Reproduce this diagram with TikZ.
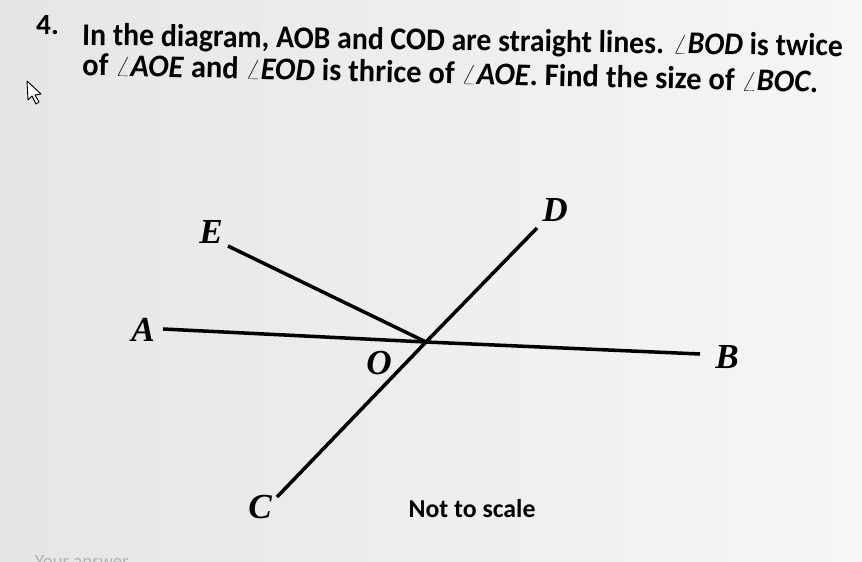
\documentclass[tikz,border=0pt]{standalone}
\usepackage{fontspec}
\setmainfont{Carlito}
\newfontfamily\labelfont{Liberation Serif}

\begin{document}
\begin{tikzpicture}[x=0.03cm,y=-0.03cm]
\tikzstyle{question} = [font=\fontsize{27}{32}\selectfont\bfseries, anchor=base west, inner sep=0pt, transform shape]
\tikzstyle{point} = [font=\labelfont\fontsize{30}{34}\selectfont\bfseries\itshape, inner sep=0pt]
\tikzstyle{ray} = [line width=3pt]

\clip (0,0) rectangle (862,562);
\shade [left color=gray!20, right color=gray!7] (0,0) rectangle (862,562);

% question text
\node (num) [question, font=\fontsize{25}{30}\selectfont\bfseries] at (36,35) {4.};
\node (line1) [question, xscale=0.94, rotate=-0.8] at (82,45) {In the diagram, AOB and COD are straight lines. $\angle$\textit{BOD} is twice};
\node (line2) [question, xscale=0.965, rotate=-1.3] at (82,75) {of $\angle$\textit{AOE} and $\angle$\textit{EOD} is thrice of $\angle$\textit{AOE}. Find the size of $\angle$\textit{BOC}.};

% mouse pointer
\draw [fill=white, line width=0.8pt, line join=round] (27,81) -- (28,100) -- (32,96) -- (36,104) -- (39,102) -- (35,95) -- (41,94) -- cycle;

% points
\coordinate (O) at (426,342);
\coordinate (A) at (163,329);
\coordinate (B) at (700,354);
\coordinate (C) at (277,497);
\coordinate (D) at (537,228);
\coordinate (E) at (228,246);

\draw [ray] (A) -- (O) -- (B);
\draw [ray] (C) -- (O) -- (D);
\draw [ray] (E) -- (O);

\node (labA) [point] at (143,330) {A};
\node (labB) [point] at (727,357) {B};
\node (labC) [point] at (260,507) {C};
\node (labD) [point] at (555,210) {D};
\node (labE) [point] at (211,232) {E};
\node (labO) [point] at (379,363) {O};

\node (note) [font=\fontsize{22}{26}\selectfont\bfseries] at (472,509) {Not to scale};
\node (answer) [font=\fontsize{16}{18}\selectfont, text=gray!60, anchor=base west, inner sep=0pt] at (35,567) {Your answer};
\end{tikzpicture}
\end{document}
